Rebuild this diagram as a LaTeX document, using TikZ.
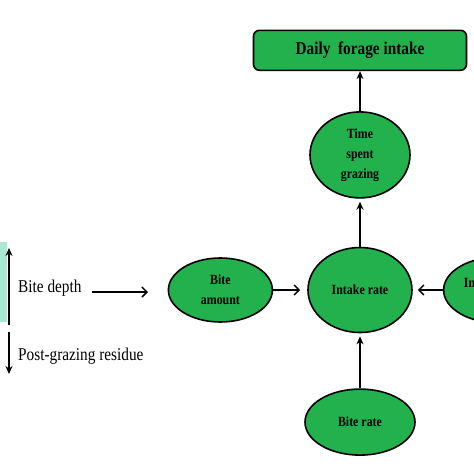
\documentclass[tikz,border=0pt]{standalone}
\usepackage{fontspec}
\setmainfont{Liberation Serif}[FakeStretch=0.85]
\usepackage{tikz}
\usetikzlibrary{shapes,arrows}
\usetikzlibrary{shapes.geometric}
\usetikzlibrary{positioning}
\usetikzlibrary{arrows.meta}
\definecolor{grassgreen}{RGB}{34,177,76}
\definecolor{mint}{RGB}{170,232,212}
\tikzstyle{cloud} = [draw,
ellipse,
fill=grassgreen,
line width=1.6pt,
inner sep=0pt,
align=center,
font=\fontsize{14}{20}\selectfont\bfseries]
\tikzstyle{line} = [draw,
-{Stealth[length=8pt,width=7pt]},
line width=1.5pt]
\tikzstyle{barb} = [draw,
-{Straight Barb[length=5pt,width=10pt]},
line width=1.5pt]

\begin{document}
\begin{tikzpicture}[x=1pt, y=-1pt,
	label/.style={font=\fontsize{18}{20}\selectfont, inner sep=0pt, anchor=west},
	total/.style={draw, rectangle, rounded corners=6pt, fill=grassgreen,
		line width=1.6pt, minimum width=213pt, minimum height=40pt,
		font=\fontsize{18}{20}\selectfont\bfseries}]
	\useasboundingbox (0,0) rectangle (474,474);
	\clip (0,0) rectangle (474,474);
	\fill [mint] (0,242) rectangle (7,322);
	%% Central nodes
	\node [cloud, minimum width=104pt, minimum height=85pt] (IR) at (360,290) {Intake rate};
	\node [cloud, minimum width=100pt, minimum height=86pt, above=48pt of IR] (TSG) {Time\\spent\\grazing};
	\node [total, above=40pt of TSG] (DFI) {Daily\ \ forage intake};
	\node [cloud, minimum width=104pt, minimum height=64pt, left=34pt of IR] (BA) {Bite\\amount};
	\node [cloud, minimum width=110pt, minimum height=66pt, below=55pt of IR] (BR) {Bite rate};
	\node [cloud, minimum width=110pt, minimum height=66pt, right=30pt of IR] (IT) {};
	\node [cloud, draw=none, fill=none, anchor=west] (ITtext) at ([xshift=18pt, yshift=7pt]IT.west) {In};
	%% Left labels
	\node [label] (BD) at (18,288) {Bite depth};
	\node [label] (PGR) at (18,356) {Post-grazing residue};
	\coordinate (BDend) at (148,292);
	\coordinate (up0) at (9,325);
	\coordinate (up1) at (9,248);
	\coordinate (dn0) at (9,332);
	\coordinate (dn1) at (9,374);
	%% Flows
	\path [line] (TSG) -- (DFI);
	\path [line, shorten >=3pt] (IR) -- (TSG);
	\path [line, shorten >=3pt] (BR) -- (IR);
	\path [barb, shorten >=7pt] (BA) -- (IR);
	\path [barb, shorten >=5pt] (IT) -- (IR);
	\path [barb, shorten <=10pt] (BD.east |- BDend) -- (BDend);
	\path [line] (up0) -- (up1);
	\path [line] (dn0) -- (dn1);
\end{tikzpicture}
\end{document}
